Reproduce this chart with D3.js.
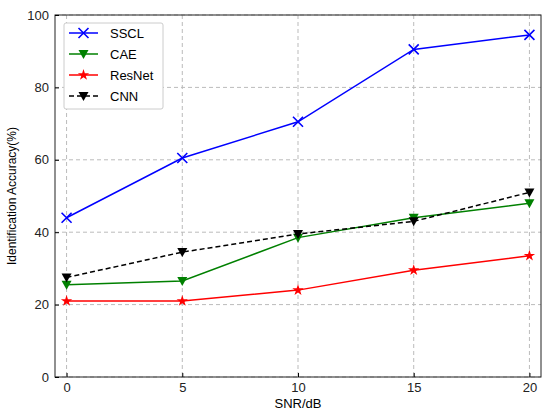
<!DOCTYPE html><html><head><script src="https://cdn.jsdelivr.net/npm/d3@7"></script>
<style>body{margin:0;background:#fff}text{font-family:Arial,"Liberation Sans",sans-serif}</style></head><body><svg id="c" width="550" height="418"></svg><script>
const snr=[0,5,10,15,20];
const sscl=[44,60.5,70.5,90.5,94.5];
const cae=[25.5,26.5,38.5,44,48];
const resnet=[21,21,24,29.5,33.5];
const cnn=[27.5,34.5,39.5,43,51];
const xTicks=[0,5,10,15,20], yTicks=[0,20,40,60,80,100];
const series=[{n:"SSCL",v:sscl,c:"#0000ff",m:"x"},{n:"CAE",v:cae,c:"#008000",m:"tri"},{n:"ResNet",v:resnet,c:"#ff0000",m:"star"},{n:"CNN",v:cnn,c:"#000",m:"tri",dash:"5,3"}];
const L=55,R=541,T=15,B=377;
const svg=d3.select("#c");
const x=d3.scaleLinear().domain([-0.5,20.5]).range([L,R]);
const y=d3.scaleLinear().domain([0,100]).range([B,T]);
const g=svg.append("g");
xTicks.forEach(t=>g.append("line").attr("x1",x(t)).attr("x2",x(t)).attr("y1",T).attr("y2",B).attr("stroke","#bbb").attr("stroke-dasharray","4,3"));
yTicks.forEach(t=>g.append("line").attr("x1",L).attr("x2",R).attr("y1",y(t)).attr("y2",y(t)).attr("stroke","#bbb").attr("stroke-dasharray","4,3"));
g.append("rect").attr("x",L).attr("y",T).attr("width",R-L).attr("height",B-T).attr("fill","none").attr("stroke","#222");
svg.append("g").attr("transform",`translate(0,${B})`).call(d3.axisBottom(x).tickValues(xTicks).tickSize(-4).tickPadding(6)).call(a=>{a.select(".domain").remove();a.selectAll("text").attr("font-size",13).attr("fill","#222")});
svg.append("g").attr("transform",`translate(${L},0)`).call(d3.axisLeft(y).tickValues(yTicks).tickSize(-4).tickPadding(6)).call(a=>{a.select(".domain").remove();a.selectAll("text").attr("font-size",13).attr("fill","#222")});
svg.append("text").attr("x",(L+R)/2).attr("y",408).attr("text-anchor","middle").attr("font-size",13).text("SNR/dB");
svg.append("text").attr("transform",`translate(16,${(T+B)/2}) rotate(-90)`).attr("text-anchor","middle").attr("font-size",12).text("Identification Accuracy(%)");
const line=d3.line().x((d,i)=>x(snr[i])).y(d=>y(d));
function marker(sel,m,c,cx,cy){
 if(m==="x")sel.append("path").attr("d",`M${cx-5},${cy-5}L${cx+5},${cy+5}M${cx-5},${cy+5}L${cx+5},${cy-5}`).attr("stroke",c).attr("stroke-width",1.6);
 else if(m==="tri")sel.append("path").attr("d",`M${cx-5},${cy-4}L${cx+5},${cy-4}L${cx},${cy+5}Z`).attr("fill",c);
 else sel.append("path").attr("d",d3.symbol(d3.symbolStar,40)()).attr("transform",`translate(${cx},${cy})`).attr("fill",c);
}
series.forEach(s=>{
 svg.append("path").attr("d",line(s.v)).attr("fill","none").attr("stroke",s.c).attr("stroke-width",1.5).attr("stroke-dasharray",s.dash||null);
 s.v.forEach((d,i)=>marker(svg,s.m,s.c,x(snr[i]),y(d)));
});
const lg=svg.append("g");
lg.append("rect").attr("x",64).attr("y",23).attr("width",99).attr("height",86).attr("fill","#fff").attr("stroke","#ccc").attr("rx",2);
series.forEach((s,i)=>{const yy=33+i*21;
 lg.append("line").attr("x1",69).attr("x2",98).attr("y1",yy).attr("y2",yy).attr("stroke",s.c).attr("stroke-width",1.5).attr("stroke-dasharray",s.dash||null);
 marker(lg,s.m,s.c,83.5,yy);
 lg.append("text").attr("x",110).attr("y",yy+5).attr("font-size",13).text(s.n);
});
</script></body></html>
